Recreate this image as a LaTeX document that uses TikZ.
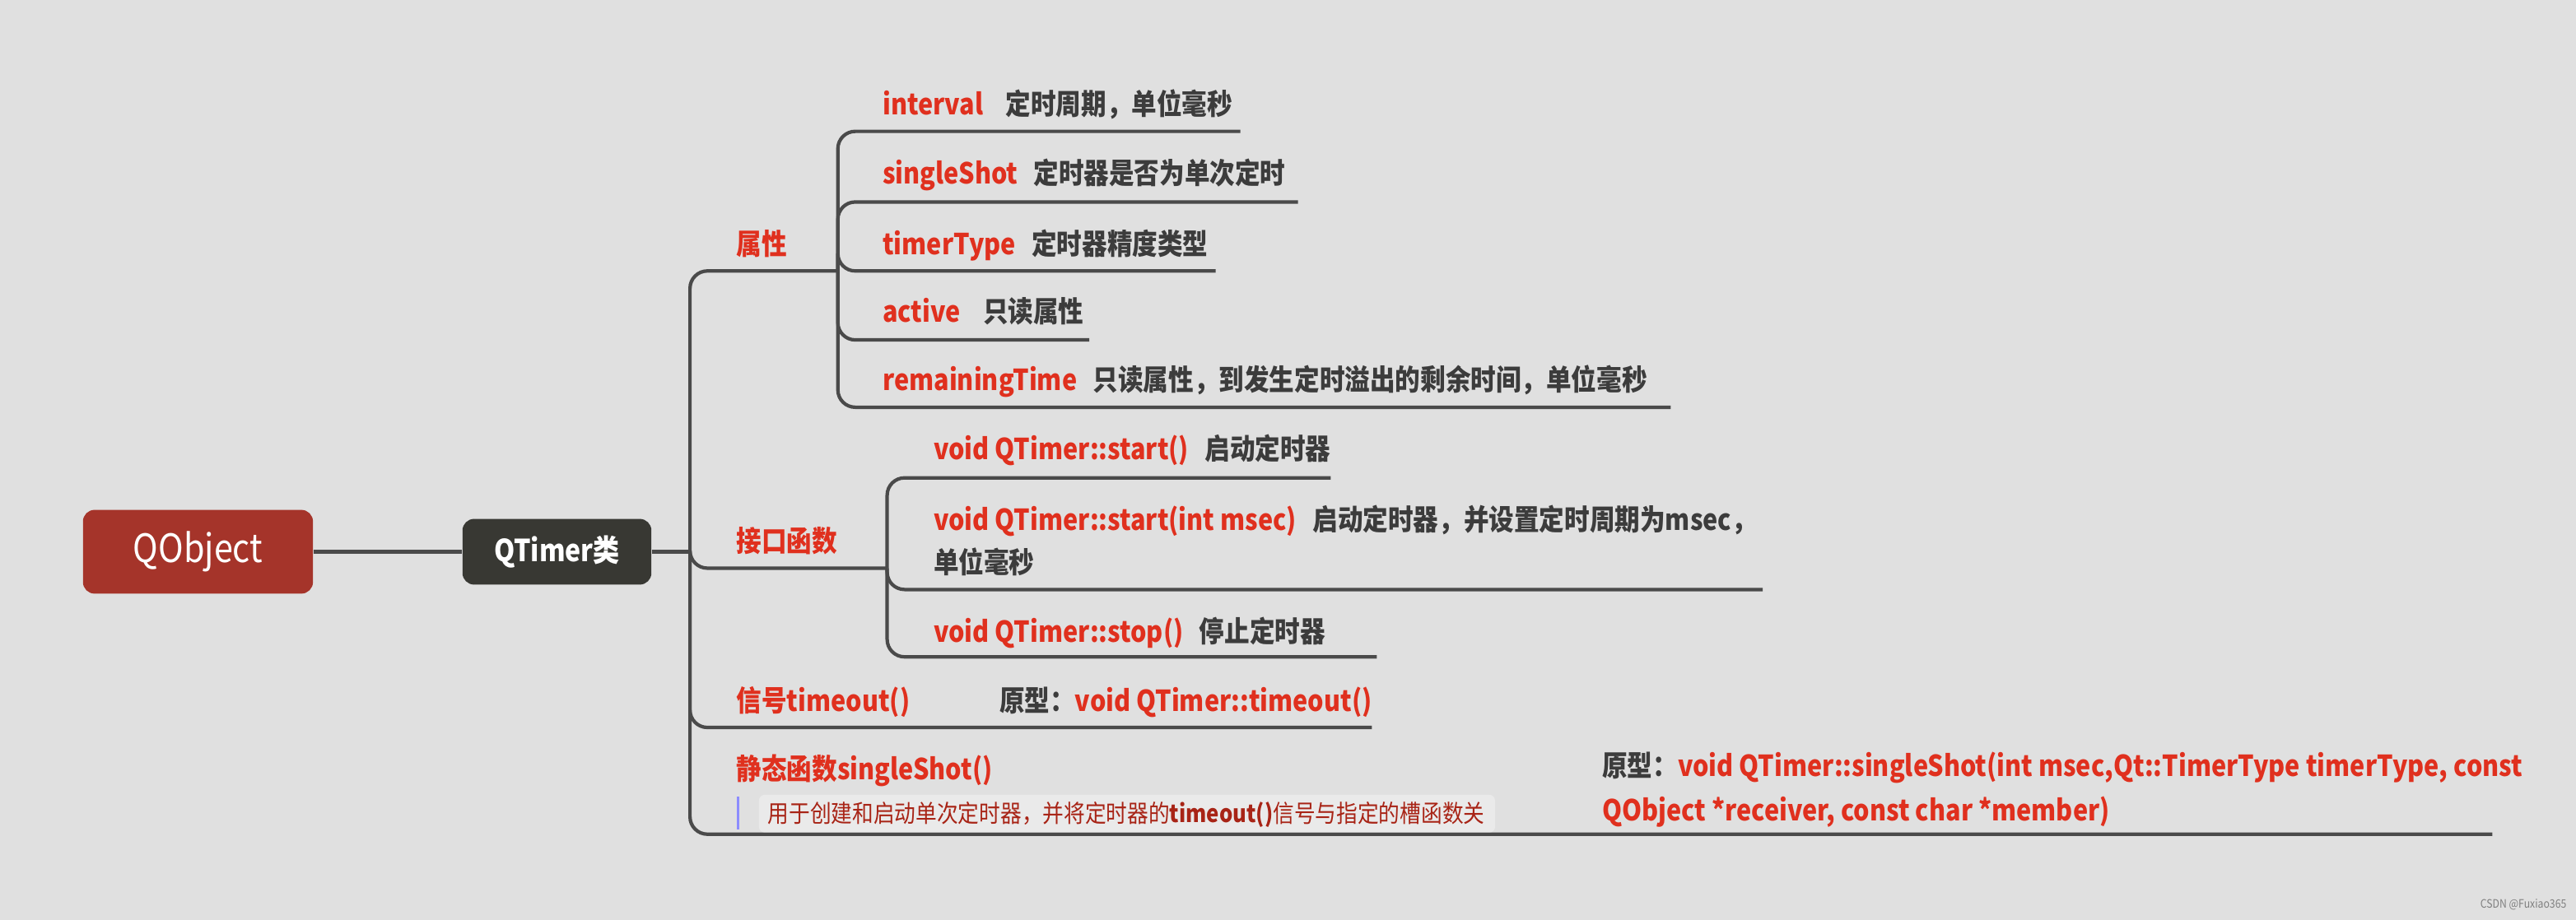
\documentclass[tikz,border=0pt]{standalone}
\usepackage{fontspec}
\setmainfont[FakeStretch=0.87]{Noto Sans CJK SC}
\usepackage{xcolor}
\definecolor{bg}{HTML}{E0E0E0}
\definecolor{rd}{HTML}{E0301E}
\definecolor{dk}{HTML}{3C3C3C}
\definecolor{ln}{HTML}{4A4A4A}
\definecolor{qo}{HTML}{A5342A}
\definecolor{qt}{HTML}{383833}
\begin{document}
\begin{tikzpicture}[x=0.01995cm,y=-0.01995cm,
  br/.style={draw=ln,line width=1.2pt,rounded corners=6pt},
  kw/.style={anchor=base west,inner sep=0,text=rd,font=\fontsize{10}{12}\selectfont\bfseries},
  ds/.style={anchor=base west,inner sep=0,text=dk,font=\fontsize{10}{12}\selectfont\bfseries}]
\fill[bg] (0,0) rectangle (1568,560);
\useasboundingbox (0,0) rectangle (1568,560);
% root boxes
\node[fill=qo,rounded corners=4pt,minimum width=140*0.01995cm,minimum height=51*0.01995cm,text=white,font=\fontsize{13.5}{15}\selectfont] (qo) at (120.5,336) {QObject};
\node[fill=qt,rounded corners=4pt,minimum width=115*0.01995cm,minimum height=40*0.01995cm,text=white,font=\fontsize{10.5}{12}\selectfont\bfseries] (qt) at (339,336) {QTimer类};
\draw[ln,line width=1.2pt] (qo.east) -- (qt.west);
\coordinate (J) at (420,336);
\draw[ln,line width=1.2pt] (qt.east) -- (J);
% level 1
\coordinate (a1) at (510,165);
\coordinate (a2) at (540,346);
\coordinate (a3) at (835,443);
\coordinate (a4) at (1517,508);
\draw[br] (J) |- (a1);
\draw[br] (J) |- (a2);
\draw[br] (J) |- (a3);
\draw[br] (J) |- (a4);
\node[kw] (n1) at (448,155) {属性};
\node[kw] (n2) at (448,336) {接口函数};
\node[kw] (n3) at (448,433) {信号timeout()};
\node[kw] (n4) at (448,475) {静态函数singleShot()};
% properties
\coordinate (p1) at (755,80);
\coordinate (p2) at (790,123);
\coordinate (p3) at (740,165);
\coordinate (p4) at (663,207);
\coordinate (p5) at (1017,248);
\foreach \p in {p1,p2,p3,p4,p5} \draw[br] (a1) |- (\p);
\node[kw] (k1) at (537,70) {interval};
\node[ds] (d1) at ([xshift=13*0.01995cm]k1.base east) {定时周期，单位毫秒};
\node[kw] (k2) at (537,112) {singleShot};
\node[ds] (d2) at ([xshift=9*0.01995cm]k2.base east) {定时器是否为单次定时};
\node[kw] (k3) at (537,155) {timerType};
\node[ds] (d3) at ([xshift=9*0.01995cm]k3.base east) {定时器精度类型};
\node[kw] (k4) at (537,196) {active};
\node[ds] (d4) at ([xshift=13*0.01995cm]k4.base east) {只读属性};
\node[kw] (k5) at (537,238) {remainingTime};
\node[ds] (d5) at ([xshift=9*0.01995cm]k5.base east) {只读属性，到发生定时溢出的剩余时间，单位毫秒};
% functions
\coordinate (f1) at (810,291);
\coordinate (f2) at (1073,359);
\coordinate (f3) at (838,400);
\foreach \p in {f1,f2,f3} \draw[br] (a2) |- (\p);
\node[kw] (g1) at (568,280) {void QTimer::start()};
\node[ds] (h1) at ([xshift=9*0.01995cm]g1.base east) {启动定时器};
\node[kw] (g2) at (568,323) {void QTimer::start(int msec)};
\node[ds] (h2) at ([xshift=9*0.01995cm]g2.base east) {启动定时器，并设置定时周期为msec，};
\node[ds] (h2b) at (568,349) {单位毫秒};
\node[kw] (g3) at (568,391) {void QTimer::stop()};
\node[ds] (h3) at ([xshift=9*0.01995cm]g3.base east) {停止定时器};
% signal
\node[ds] (s1) at (608,433) {原型：\textcolor{rd}{void QTimer::timeout()}};
% static
\fill[white,opacity=0.35,rounded corners=2pt] (462,484) rectangle (910,507);
\fill[blue!45!white] (448.5,485) rectangle (450,505);
\node[anchor=base west,inner sep=0,text=rd!75!black,font=\fontsize{8.4}{10}\selectfont] (nt) at (467,501) {用于创建和启动单次定时器，并将定时器的\textbf{timeout()}信号与指定的槽函数关};
\node[ds] (s2) at (975,473) {原型：\textcolor{rd}{void QTimer::singleShot(int msec,Qt::TimerType timerType, const}};
\node[kw] (s3) at (975,500) {QObject *receiver, const char *member)};
\node[anchor=south east,inner sep=2pt,text=gray,font=\fontsize{4}{5}\selectfont] (wm) at (1566,558) {CSDN @Fuxiao365};
\end{tikzpicture}
\end{document}
